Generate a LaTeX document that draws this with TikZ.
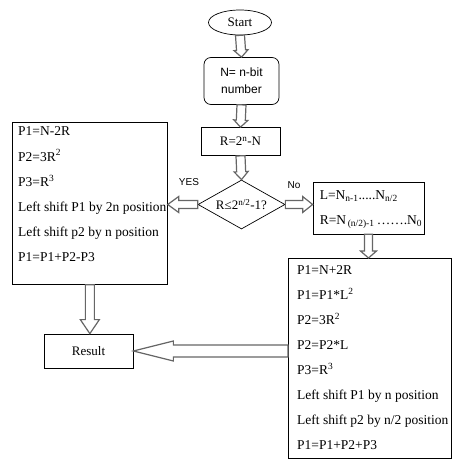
\documentclass[tikz,border=0pt]{standalone}
\usepackage{fontspec}
\setmainfont{Liberation Serif}
\setsansfont{Liberation Sans}
\usetikzlibrary{shapes.geometric, calc}
\tikzstyle{terminal} = [ellipse, draw=black, line width=0.7pt, minimum width=63, minimum height=25, inner sep=0, font=\fontsize{13}{15}\selectfont]
\tikzstyle{process} = [rectangle, draw=black, line width=0.7pt, inner sep=0, font=\fontsize{13}{15}\selectfont]
\tikzstyle{decision} = [diamond, draw=black, line width=0.7pt, aspect=1.78, minimum width=87, minimum height=49, inner sep=0, font=\fontsize{13}{15}\selectfont]
\tikzstyle{calcline} = [inner sep=0, anchor=base west, font=\fontsize{13.5}{15}\selectfont]
\tikzstyle{branch} = [inner sep=0, font=\sffamily\fontsize{10}{12}\selectfont]
\tikzstyle{hollow} = [draw=black!60, fill=white, line width=1.2pt, line join=miter]

% hollow block arrow: from, to, shaft half width, head half width, head length
\newcommand{\blockarrow}[5]{%
  \coordinate (ba-s) at (#1);
  \coordinate (ba-e) at (#2);
  \coordinate (ba-b) at ($(ba-e)!#5pt!(ba-s)$);
  \draw[hollow] ($(ba-s)!#3pt!90:(ba-e)$) -- ($(ba-b)!#3pt!90:(ba-e)$) -- ($(ba-b)!#4pt!90:(ba-e)$)
    -- (ba-e) -- ($(ba-b)!#4pt!-90:(ba-e)$) -- ($(ba-b)!#3pt!-90:(ba-e)$) -- ($(ba-s)!#3pt!-90:(ba-e)$) -- cycle;
}

\begin{document}
\begin{tikzpicture}[x=1pt, y=-1pt]
    \useasboundingbox (0,0) rectangle (474,462);

    \node (start) [terminal] at (240,22.5) {Start};
    \node (nbit) [process, rounded corners=7, minimum width=75, minimum height=47, align=center, font=\sffamily\fontsize{12}{17}\selectfont] at (241.5,81) {N= n-bit\\number};
    \node (rdef) [process, minimum width=79, minimum height=28] at (240.5,141.5) {R=2\textsuperscript{n}-N};
    \node (cond) [decision] at (241.5,204.5) {R≤2\textsuperscript{n/2}-1?};

    % yes branch
    \node (yescalc) [process, anchor=north west, minimum width=155, minimum height=162] at (12,122) {};
    \foreach \txt [count=\i from 0] in {P1=N-2R, P2=3R\textsuperscript{2}, P3=R\textsuperscript{3}, Left shift P1 by 2n position, Left shift p2 by n position, P1=P1+P2-P3}
        \node (yesline\i) [calcline] at ($(yescalc.north west)+(6,14+25.2*\i)$) {\txt};
    \node (yes) [branch] at (189,182) {YES};

    % no branch
    \node (split) [process, minimum width=111, minimum height=52] at (368.5,208) {};
    \node (splitl) [calcline] at ($(split.north west)+(7,17.5)$) {L=N\textsubscript{n-1}.....N\textsubscript{n/2}};
    \node (splitr) [calcline] at ($(split.north west)+(7,43)$) {R=N\textsubscript{\,(n/2)-1}\,…….N\textsubscript{0}};
    \node (no) [branch] at (294,185) {No};

    \node (nocalc) [process, anchor=north west, minimum width=163, minimum height=200] at (288,258) {};
    \foreach \txt [count=\i from 0] in {P1=N+2R, P1=P1*L\textsuperscript{2}, P2=3R\textsuperscript{2}, P2=P2*L, P3=R\textsuperscript{3}, Left shift P1 by n position, Left shift p2 by n/2 position, P1=P1+P2+P3}
        \node (noline\i) [calcline] at ($(nocalc.north west)+(9,16.5+25*\i)$) {\txt};

    \node (result) [process, minimum width=89, minimum height=34] at (88.5,351) {Result};

    \blockarrow{start.south}{nbit.north}{4.5}{7}{7}
    \blockarrow{nbit.south}{rdef.north}{4.5}{7}{7}
    \blockarrow{rdef.south}{cond.north}{4.5}{7}{8}
    \blockarrow{cond.west}{cond.west -| yescalc.east}{4}{8}{11}
    \blockarrow{cond.east}{cond.east -| split.west}{4}{8}{10}
    \blockarrow{split.south}{split.south |- nocalc.north}{4}{8}{7}
    \blockarrow{yescalc.south}{yescalc.south |- result.north}{4.5}{9.5}{14}
    \blockarrow{nocalc.west |- result.east}{result.east}{6}{10}{40}
\end{tikzpicture}
\end{document}
